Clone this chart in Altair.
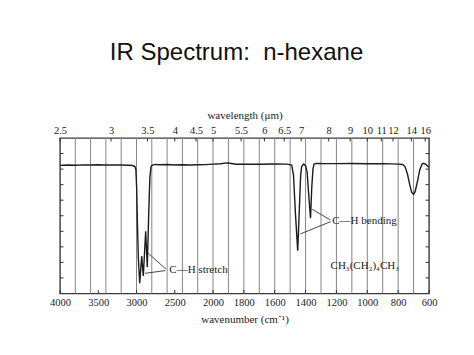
import altair as alt
import pandas as pd

# ---------------- data ----------------
wavenumber = [4000, 3900, 3800, 3700, 3600, 3500, 3400, 3300, 3200, 3100, 3050,
              3020, 3008, 2998, 2988, 2975, 2958, 2932, 2911, 2880, 2859, 2840,
              2825, 2810, 2795, 2750, 2700, 2600, 2500, 2400, 2300, 2200, 2100,
              2000, 1950, 1910, 1880, 1850, 1800, 1700, 1600, 1520, 1490, 1478,
              1466, 1451, 1442, 1432, 1425, 1412, 1400, 1390, 1380, 1368, 1360,
              1352, 1345, 1330, 1300, 1200, 1100, 1000, 900, 800, 770, 755, 740,
              725, 712, 700, 690, 675, 660, 645, 635, 620, 610, 600]
transmittance = [82.4, 82.6, 82.5, 82.7, 82.6, 82.8, 82.6, 82.7, 82.6, 82.5, 82.3,
                 81.6, 79.5, 68, 45, 22, 6.6, 24, 11.3, 40, 17, 52,
                 75, 81.5, 82.6, 83.0, 82.8, 83.0, 82.6, 82.8, 82.6, 82.8, 82.9,
                 83.2, 83.4, 84.0, 83.6, 83.1, 83.2, 83.1, 83.3, 83.2, 82.6, 76,
                 52, 27.5, 50, 76, 81.8, 83.3, 82.2, 78, 64, 48.4, 68,
                 80, 83.2, 83.7, 83.6, 83.5, 83.6, 83.4, 83.5, 83.2, 83.0, 81.5, 77,
                 70, 65, 63.8, 65.5, 72, 79.5, 83.3, 83.7, 83.0, 82.0, 81.2]

grid_wavenumbers = [3800, 3600, 3400, 3200, 3000, 2800, 2600, 2400, 2200, 2000,
                    1900, 1800, 1700, 1600, 1500, 1400, 1300, 1200, 1100, 1000,
                    900, 800, 700]
bottom_labels = [4000, 3500, 3000, 2500, 2000, 1800, 1600, 1400, 1200, 1000, 800, 600]
wavelength_labels = [2.5, 3, 3.5, 4, 4.5, 5, 5.5, 6, 6.5, 7, 8, 9, 10, 11, 12, 14, 16]
y_labels = [0, 20, 40, 60, 80, 100]
y_minor = [10, 20, 30, 40, 50, 60, 70, 80, 90]

notes_text = ["C\u2014H stretch", "C\u2014H bending", "CH\u2083(CH\u2082)\u2084CH\u2083"]
notes_wn = [2571, 1227, 1238]
notes_t = [15.3, 46.6, 17.9]

leader_wn = [2614, 2627, 1238, 1238]
leader_t = [15.6, 14.7, 47.3, 46.2]
leader_wn2 = [2846, 2889, 1357, 1434]
leader_t2 = [25.9, 13.0, 54.1, 38.3]

# ---------------- chart ----------------
W, H = 369, 155.5
SERIF = "Liberation Serif"
INK = "#222222"

xscale = alt.Scale(domain=[4000, 2000, 600], range=[0, 153, W], nice=False, zero=False)
yscale = alt.Scale(domain=[0, 100], nice=False, zero=False)

spec_df = pd.DataFrame({"wn": wavenumber, "t": transmittance})
grid_df = pd.DataFrame({"wn": grid_wavenumbers})
bot_df = pd.DataFrame({"wn": bottom_labels})
top_df = pd.DataFrame({"wn": [10000.0 / l for l in wavelength_labels]})
ymin_df = pd.DataFrame({"t": y_minor})
notes_df = pd.DataFrame({"wn": notes_wn, "t": notes_t, "label": notes_text})
lead_df = pd.DataFrame({"wn": leader_wn, "t": leader_t, "wn2": leader_wn2, "t2": leader_t2})

grid = alt.Chart(grid_df).mark_rule(color="#858585", strokeWidth=1).encode(
    x=alt.X("wn:Q", scale=xscale, axis=None)
)

spectrum = alt.Chart(spec_df).mark_line(color="#1c1c1c", strokeWidth=1.4).encode(
    x=alt.X("wn:Q", scale=xscale,
            axis=alt.Axis(values=bottom_labels, orient="bottom", title="wavenumber (cm\u207b\u00b9)",
                          format="d", grid=False, ticks=False, domain=False, labelPadding=4,
                          labelFont=SERIF, labelFontSize=10.5, labelColor=INK,
                          titleFont=SERIF, titleFontSize=11, titleFontWeight="normal",
                          titleColor=INK, titlePadding=5, labelFlush=False)),
    y=alt.Y("t:Q", scale=yscale,
            axis=alt.Axis(values=y_labels, orient="left", title="percent transmittance",
                          grid=False, ticks=False, domain=False, labelPadding=4,
                          labelFont=SERIF, labelFontSize=10.5, labelColor=INK,
                          titleFont=SERIF, titleFontSize=10.5, titleFontWeight="normal",
                          titleColor=INK, titlePadding=4)),
    order=alt.Order("wn:Q", sort="descending"),
)

bottom_ticks = alt.Chart(bot_df).mark_rule(color="#333", strokeWidth=1).encode(
    x=alt.X("wn:Q", scale=xscale, axis=None),
    y=alt.value(H), y2=alt.value(H - 3.5),
)

top_ticks = alt.Chart(top_df).mark_rule(color="#333", strokeWidth=1).encode(
    x=alt.X("wn:Q", scale=xscale,
            axis=alt.Axis(values=[10000.0 / l for l in wavelength_labels], orient="top",
                          title="wavelength (\u03bcm)", grid=False, ticks=False, domain=False,
                          labelExpr="'' + round(100000 / datum.value) / 10",
                          labelPadding=3, labelFont=SERIF, labelFontSize=10.5,
                          labelColor=INK, titleFont=SERIF, titleFontSize=11,
                          titleFontWeight="normal", titleColor=INK, titlePadding=5,
                          labelFlush=False, labelOverlap=False)),
    y=alt.value(0), y2=alt.value(3.5),
)

left_ticks = alt.Chart(ymin_df).mark_rule(color="#333", strokeWidth=1).encode(
    y=alt.Y("t:Q", scale=yscale, axis=None),
    x=alt.value(0), x2=alt.value(3.5),
)
right_ticks = alt.Chart(ymin_df).mark_rule(color="#333", strokeWidth=1).encode(
    y=alt.Y("t:Q", scale=yscale, axis=None),
    x=alt.value(W), x2=alt.value(W - 3.5),
)

leaders = alt.Chart(lead_df).mark_rule(color="#333", strokeWidth=0.9).encode(
    x=alt.X("wn:Q", scale=xscale, axis=None), x2="wn2:Q",
    y=alt.Y("t:Q", scale=yscale, axis=None), y2="t2:Q",
)

notes = alt.Chart(notes_df).mark_text(align="left", baseline="middle", font=SERIF,
                                      fontSize=11, color=INK).encode(
    x=alt.X("wn:Q", scale=xscale, axis=None),
    y=alt.Y("t:Q", scale=yscale, axis=None),
    text="label:N",
)

chart = alt.layer(
    grid, bottom_ticks, left_ticks, right_ticks, leaders, spectrum, top_ticks, notes
).resolve_axis(x="independent").properties(
    width=W, height=H,
    autosize=alt.AutoSizeParams(type="none"),
    padding={"left": 60, "top": 138, "right": 45, "bottom": 61.5},
    title=alt.TitleParams("IR Spectrum:\u00a0 n-hexane", font="Liberation Sans", fontSize=24,
                          fontWeight="normal", color="#111111", anchor="middle",
                          frame="group", dx=-8, offset=44),
    background="white",
).configure_view(stroke="#3a3a3a", strokeWidth=1.4)

chart.save("out.html", embed_options={"renderer": "svg", "actions": False})
